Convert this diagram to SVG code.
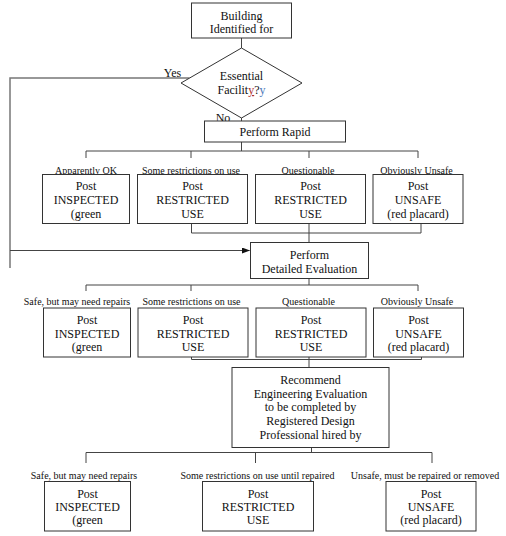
<svg xmlns="http://www.w3.org/2000/svg" width="506" height="536" viewBox="0 0 506 536">
<defs>
<marker id="arr" markerWidth="8" markerHeight="6" refX="7.5" refY="3" orient="auto" markerUnits="userSpaceOnUse"><path d="M0,0 L8,3 L0,6 Z" fill="#111"/></marker>
</defs>
<style>
text{font-family:"Liberation Serif","Times New Roman",serif;fill:#111;text-anchor:middle}
.t{font-size:12px}
.l{font-size:10px}
.b{fill:#fff;stroke:#333;stroke-width:1}
.c{fill:none;stroke:#444;stroke-width:1}
</style>
<rect width="506" height="536" fill="#fff"/>
<g id="connectors">
<path class="c" d="M241.5,38 V48"/>
<path class="c" d="M189.5,78 H10 V268" style="stroke:#777;stroke-width:1.5"/>
<path class="c" d="M10,250.5 H249.5" marker-end="url(#arr)"/>
<path class="c" d="M241.5,107 V121"/>
<path class="c" d="M241.5,142 V151 M86,158 V151 H418 V158 M191,151 V158 M309,151 V158"/>
<path class="c" d="M191.5,223 V233 H421 V223 M309,223 V242"/>
<path class="c" d="M309,278 V285 M86,291 V285 H418 V291 M191,285 V291"/>
<path class="c" d="M191.5,348 V359.5 H421.5 V348 M309,348 V367"/>
<path class="c" d="M311.5,440 V452.5 M86,463 V452.5 H432 V463 M255.5,452.5 V463"/>
</g>
<g id="n-building">
<rect class="b" x="191.5" y="3" width="100" height="35"/>
<text class="t" x="241.5" y="19.5">Building</text>
<text class="t" x="241.5" y="33">Identified for</text>
</g>
<g id="n-essential">
<polygon class="b" points="241.5,48 302,83 241.5,118 181,83"/>
<text class="t" x="241.5" y="80">Essential</text>
<text class="t" x="241.5" y="94">Facilit<tspan fill="#b03030" text-decoration="underline">y</tspan>?<tspan fill="#4a78b8">y</tspan></text>
<text class="t" x="172.5" y="77">Yes</text>
<text class="t" x="223" y="122">No</text>
</g>
<g id="n-rapid">
<rect class="b" x="204.5" y="121" width="141" height="21"/>
<text class="t" x="275" y="135.5">Perform Rapid</text>
</g>
<g id="row1">
<text class="l" x="86" y="173.5">Apparently OK</text>
<text class="l" x="191" y="173.5">Some restrictions on use</text>
<text class="l" x="308" y="173.5">Questionable</text>
<text class="l" x="416.5" y="173.5">Obviously Unsafe</text>
<g id="r1-1"><rect class="b" x="42.5" y="174.5" width="87" height="49"/>
<text class="t" x="86" y="190">Post</text><text class="t" x="86" y="204">INSPECTED</text><text class="t" x="86" y="217.5">(green</text></g>
<g id="r1-2"><rect class="b" x="137.5" y="174.5" width="110" height="49"/>
<text class="t" x="192.5" y="190">Post</text><text class="t" x="192.5" y="204">RESTRICTED</text><text class="t" x="192.5" y="217.5">USE</text></g>
<g id="r1-3"><rect class="b" x="255.5" y="174.5" width="110" height="49"/>
<text class="t" x="310.5" y="190">Post</text><text class="t" x="310.5" y="204">RESTRICTED</text><text class="t" x="310.5" y="217.5">USE</text></g>
<g id="r1-4"><rect class="b" x="373" y="174.5" width="90" height="49"/>
<text class="t" x="418" y="190">Post</text><text class="t" x="418" y="204">UNSAFE</text><text class="t" x="418" y="217.5">(red placard)</text></g>
</g>
<g id="n-detailed">
<rect class="b" x="250.5" y="242.5" width="118" height="36"/>
<text class="t" x="309.5" y="259">Perform</text>
<text class="t" x="309.5" y="272.5">Detailed Evaluation</text>
</g>
<g id="row2">
<text class="l" x="77" y="305">Safe, but may need repairs</text>
<text class="l" x="191.5" y="305">Some restrictions on use</text>
<text class="l" x="308.5" y="305">Questionable</text>
<text class="l" x="417" y="305">Obviously Unsafe</text>
<g id="r2-1"><rect class="b" x="43.5" y="308" width="87" height="49"/>
<text class="t" x="87" y="324">Post</text><text class="t" x="87" y="338">INSPECTED</text><text class="t" x="87" y="351">(green</text></g>
<g id="r2-2"><rect class="b" x="138" y="308" width="110" height="49"/>
<text class="t" x="193" y="324">Post</text><text class="t" x="193" y="338">RESTRICTED</text><text class="t" x="193" y="351">USE</text></g>
<g id="r2-3"><rect class="b" x="256" y="308" width="110" height="49"/>
<text class="t" x="311" y="324">Post</text><text class="t" x="311" y="338">RESTRICTED</text><text class="t" x="311" y="351">USE</text></g>
<g id="r2-4"><rect class="b" x="373.5" y="308" width="90" height="49"/>
<text class="t" x="418.5" y="324">Post</text><text class="t" x="418.5" y="338">UNSAFE</text><text class="t" x="418.5" y="351">(red placard)</text></g>
</g>
<g id="n-recommend">
<rect class="b" x="232" y="367.5" width="157" height="80"/>
<text class="t" x="310.5" y="384">Recommend</text>
<text class="t" x="310.5" y="397.5">Engineering Evaluation</text>
<text class="t" x="310.5" y="411">to be completed by</text>
<text class="t" x="310.5" y="425">Registered Design</text>
<text class="t" x="310.5" y="439">Professional hired by</text>
</g>
<g id="row3">
<text class="l" x="84" y="478.5">Safe, but may need repairs</text>
<text class="l" x="257.5" y="478.5">Some restrictions on use until repaired</text>
<text class="l" x="425" y="478.5">Unsafe, must be repaired or removed</text>
<g id="r3-1"><rect class="b" x="44.5" y="481.5" width="86" height="49.5"/>
<text class="t" x="87.5" y="497.5">Post</text><text class="t" x="87.5" y="511">INSPECTED</text><text class="t" x="87.5" y="524">(green</text></g>
<g id="r3-2"><rect class="b" x="202.5" y="481.5" width="111" height="49.5"/>
<text class="t" x="258" y="497.5">Post</text><text class="t" x="258" y="511">RESTRICTED</text><text class="t" x="258" y="524">USE</text></g>
<g id="r3-3"><rect class="b" x="386" y="481.5" width="90" height="49.5"/>
<text class="t" x="431" y="497.5">Post</text><text class="t" x="431" y="511">UNSAFE</text><text class="t" x="431" y="524">(red placard)</text></g>
</g>
</svg>
